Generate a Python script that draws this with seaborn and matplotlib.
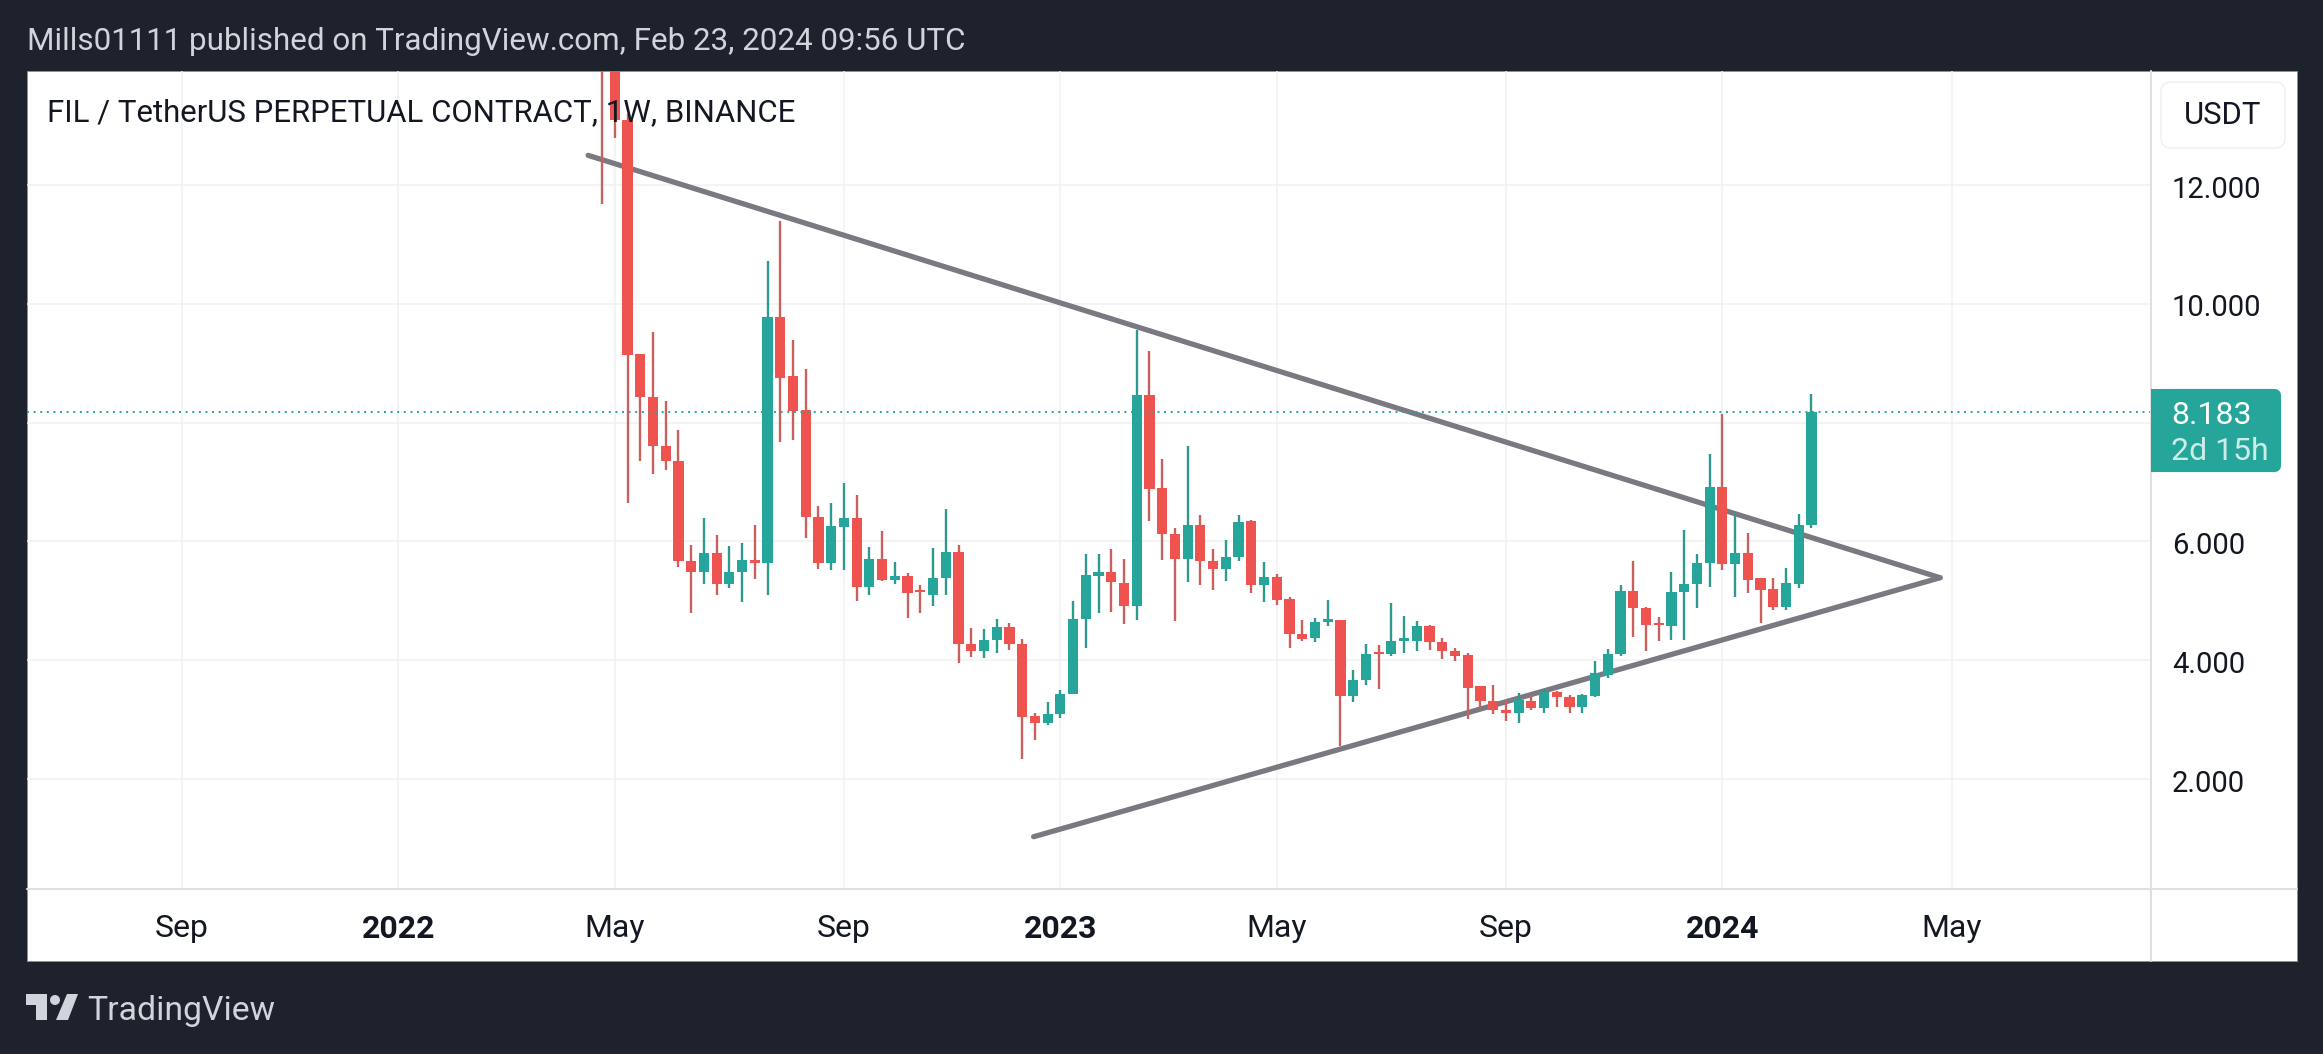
import matplotlib
matplotlib.use("Agg")
import matplotlib.pyplot as plt
import matplotlib.patches as mp
import matplotlib.lines as ml
from matplotlib.transforms import Affine2D
import pandas as pd
import seaborn as sns

# weekly candles, week 0 is the week of 2 May 2022
first_week = -1
opens = [16.0, 14.6, 13.09, 9.16, 8.44, 7.61, 7.35, 5.67, 5.48, 5.80, 5.29, 5.48, 5.69, 5.63, 9.78, 8.78, 8.22, 6.42,
         5.63, 6.25, 6.40, 5.24, 5.71, 5.36, 5.42, 5.18, 5.10, 5.38, 5.82, 4.28, 4.16, 4.34, 4.56, 4.28, 3.06, 2.95,
         3.09, 3.43, 4.69, 5.42, 5.48, 5.30, 4.91, 8.47, 6.90, 6.13, 5.70, 6.28, 5.67, 5.53, 5.74, 6.35, 5.26, 5.40,
         5.04, 4.44, 4.37, 4.65, 4.67, 3.40, 3.66, 4.13, 4.10, 4.33, 4.33, 4.57, 4.31, 4.16, 4.09, 3.56, 3.31, 3.16,
         3.11, 3.31, 3.19, 3.47, 3.38, 3.21, 3.40, 3.76, 4.10, 5.16, 4.88, 4.62, 4.57, 5.15, 5.28, 5.63, 6.92, 5.62,
         5.81, 5.38, 5.20, 4.90, 5.29, 6.27]
closes = [14.6, 13.09, 9.14, 8.44, 7.60, 7.35, 5.67, 5.48, 5.80, 5.29, 5.48, 5.69, 5.63, 9.78, 8.76, 8.19, 6.42, 5.63,
          6.26, 6.40, 5.24, 5.71, 5.35, 5.42, 5.14, 5.15, 5.38, 5.82, 4.27, 4.16, 4.34, 4.56, 4.27, 3.05, 2.95, 3.10,
          3.44, 4.70, 5.43, 5.48, 5.31, 4.91, 8.47, 6.89, 6.12, 5.70, 6.28, 5.67, 5.53, 5.74, 6.33, 5.26, 5.40, 5.02,
          4.44, 4.36, 4.65, 4.69, 3.40, 3.67, 4.11, 4.11, 4.33, 4.37, 4.57, 4.30, 4.15, 4.08, 3.54, 3.31, 3.16, 3.11,
          3.33, 3.19, 3.47, 3.38, 3.21, 3.42, 3.79, 4.11, 5.16, 4.88, 4.59, 4.59, 5.15, 5.29, 5.64, 6.92, 5.62, 5.81,
          5.36, 5.19, 4.90, 5.30, 6.28, 8.183]
highs = [17.0, 15.5, 13.2, 9.16, 9.52, 8.37, 7.87, 5.94, 6.40, 6.11, 5.93, 5.98, 6.27, 10.73, 11.39, 9.40, 8.90, 6.60,
         6.64, 6.99, 6.79, 5.91, 6.17, 5.65, 5.47, 5.27, 5.89, 6.55, 5.94, 4.54, 4.52, 4.70, 4.63, 4.36, 3.11, 3.29,
         3.50, 5.00, 5.79, 5.79, 5.87, 5.71, 9.56, 9.20, 7.39, 6.22, 7.60, 6.45, 5.88, 6.02, 6.45, 6.37, 5.66, 5.46,
         5.07, 4.68, 4.71, 5.02, 4.67, 3.84, 4.28, 4.26, 4.96, 4.75, 4.66, 4.60, 4.37, 4.21, 4.12, 3.57, 3.58, 3.33,
         3.45, 3.42, 3.51, 3.49, 3.42, 3.44, 3.99, 4.19, 5.27, 5.67, 4.90, 4.73, 5.48, 6.19, 5.79, 7.47, 8.14, 6.46,
         6.15, 5.39, 5.39, 5.56, 6.46, 8.49]
lows = [11.68, 12.79, 6.64, 7.36, 7.13, 7.21, 5.57, 4.79, 5.29, 5.10, 5.21, 4.98, 5.37, 5.10, 7.67, 7.71, 6.06, 5.53,
        5.52, 5.52, 5.00, 5.10, 5.33, 5.28, 4.71, 4.79, 4.91, 5.10, 3.95, 4.06, 4.04, 4.13, 4.18, 2.34, 2.66, 2.91,
        3.03, 3.43, 4.21, 4.79, 4.82, 4.61, 4.67, 6.34, 5.69, 4.66, 5.31, 5.26, 5.19, 5.33, 5.67, 5.13, 4.98, 4.93,
        4.20, 4.32, 4.30, 4.58, 2.55, 3.29, 3.58, 3.52, 4.08, 4.13, 4.15, 4.17, 4.03, 3.98, 3.01, 3.20, 3.10, 2.98,
        2.94, 3.17, 3.11, 3.21, 3.11, 3.12, 3.39, 3.70, 4.07, 4.39, 4.15, 4.33, 4.34, 4.35, 4.88, 5.23, 5.52, 5.06,
        5.13, 4.62, 4.85, 4.85, 5.21, 6.22]

last_price = 8.183
upper_weeks = [-2.09, 104.1]
upper_prices = [12.50, 5.39]
lower_weeks = [32.9, 104.1]
lower_prices = [1.03, 5.39]
price_ticks = [2, 4, 6, 8, 10, 12]
price_labels = ["2.000", "4.000", "6.000", "", "10.000", "12.000"]
time_ticks = [-34, -17, 0, 18, 35, 52, 70, 87, 105]
time_labels = ["Sep", "2022", "May", "Sep", "2023", "May", "Sep", "2024", "May"]
bold_labels = ["2022", "2023", "2024"]

W, H = 2323, 1054
DARK, UP, DOWN = "#1E222D", "#26A69A", "#EF5350"
GRID, BORDER, LINE = "#F0F1F3", "#E0E0E0", "#7B7882"

sns.set_theme(style="whitegrid", rc={"grid.color": GRID, "grid.linewidth": 1.1})
plt.rcParams["font.family"] = ["Roboto", "DejaVu Sans"]

df = pd.DataFrame({"week": range(first_week, first_week + len(opens)),
                   "open": opens, "close": closes, "high": highs, "low": lows})
df["base"] = df[["open", "close"]].min(axis=1)
df["body"] = (df["close"] - df["open"]).abs().clip(lower=0.03)
up = df[df["close"] >= df["open"]]
down = df[df["close"] < df["open"]]

fig = plt.figure(figsize=(W / 100, H / 100), dpi=100, facecolor=DARK)
px = Affine2D().scale(1, -1).translate(0, H)

fig.add_artist(mp.Rectangle((27, 71), 2270, 890, transform=px, facecolor="white",
                            edgecolor="#8E9199", linewidth=0.7, zorder=-2))
ax = fig.add_axes([27 / W, 1 - 889 / H, (2151 - 27) / W, (889 - 71) / H], facecolor="none")

sns.lineplot(x=upper_weeks, y=upper_prices, color=LINE, linewidth=3.8, ax=ax, estimator=None, sort=False,
             zorder=2, solid_capstyle="round")
sns.lineplot(x=lower_weeks, y=lower_prices, color=LINE, linewidth=3.8, ax=ax, estimator=None, sort=False,
             zorder=2, solid_capstyle="round")

for part, body_col, wick_col in ((up, UP, "#2E9A8F"), (down, DOWN, "#C9605D")):
    ax.vlines(part["week"], part["low"], part["high"], color=wick_col, linewidth=1.7, zorder=3)
    sns.barplot(data=part, x="week", y="body", native_scale=True, width=0.8, errorbar=None, color=body_col,
                saturation=1, bottom=part["base"].to_numpy(), linewidth=0, zorder=4, ax=ax)

ax.axhline(last_price, color=UP, linewidth=1.4, linestyle=(0, (1, 2.4)), zorder=5)

ax.set_xlim(-46.17, 120.67)
ax.set_ylim(0.15, 13.92)
ax.set_xlabel("")
ax.set_ylabel("")
ax.set_xticks(time_ticks, time_labels)
ax.set_yticks(price_ticks, price_labels)
ax.yaxis.tick_right()
ax.tick_params(axis="x", length=0, pad=18, labelsize=23, labelcolor="#131722")
ax.tick_params(axis="y", length=0, pad=15, labelsize=21, labelcolor="#131722")
for lab in ax.get_xticklabels():
    if lab.get_text() in bold_labels:
        lab.set_fontweight("bold")
for lab in ax.get_yticklabels():
    lab.set_horizontalalignment("left")
    lab.set_transform(lab.get_transform() + Affine2D().translate(0, -1.5))
ax.grid(True, color=GRID, linewidth=1.1, zorder=0)
ax.set_axisbelow(True)
for s in ax.spines.values():
    s.set_visible(False)

fig.add_artist(ml.Line2D([2151, 2151], [71, 961], transform=px, color=BORDER, linewidth=1.5, zorder=3))
fig.add_artist(ml.Line2D([27, 2297], [889, 889], transform=px, color=BORDER, linewidth=1.5, zorder=3))

# last price tag
fig.add_artist(mp.FancyBboxPatch((2157, 391), 122, 79, boxstyle="round,pad=0,rounding_size=5", transform=px,
                                 facecolor=UP, edgecolor=UP, linewidth=3, zorder=5))
fig.add_artist(mp.Rectangle((2151, 389), 60, 83, transform=px, facecolor=UP, edgecolor="none", zorder=5))
fig.text(2171, 415, "8.183", transform=px, color="white", fontsize=23, va="center", ha="left", zorder=6)
fig.text(2171, 452, "2d 15h", transform=px, color="#CDEDE9", fontsize=23, va="center", ha="left", zorder=6)

# currency button
fig.add_artist(mp.FancyBboxPatch((2161, 82), 124, 66, boxstyle="round,pad=0,rounding_size=10", transform=px,
                                 mutation_aspect=1, facecolor="white", edgecolor="#F0F1F3", linewidth=1.2, zorder=5))
fig.text(2223, 116, "USDT", transform=px, color="#131722", fontsize=22.3, va="center", ha="center", zorder=6)

fig.text(27, 41, "Mills01111 published on TradingView.com, Feb 23, 2024 09:56 UTC", transform=px,
         color="#D1D4DC", fontsize=22.6, va="center", ha="left", zorder=6)
fig.text(47, 113, "FIL / TetherUS PERPETUAL CONTRACT, 1W, BINANCE", transform=px,
         color="#131722", fontsize=22.45, va="center", ha="left", zorder=6)

# TradingView footer logo
logo = "#D1D4DC"
fig.add_artist(mp.Polygon([(26, 994), (47, 994), (47, 1020), (36, 1020), (36, 1005), (26, 1005)], transform=px,
                          facecolor=logo, edgecolor="none", zorder=6))
fig.add_artist(mp.Circle((55, 1000), 5, transform=px, facecolor=logo, edgecolor="none", zorder=6))
fig.add_artist(mp.Polygon([(67, 994), (78, 994), (68, 1020), (56, 1020)], transform=px,
                          facecolor=logo, edgecolor="none", zorder=6))
fig.text(87, 1011, "TradingView", transform=px, color=logo, fontsize=24.3, va="center", ha="left", zorder=6)

fig.savefig("out.png", dpi=100, facecolor=DARK)
